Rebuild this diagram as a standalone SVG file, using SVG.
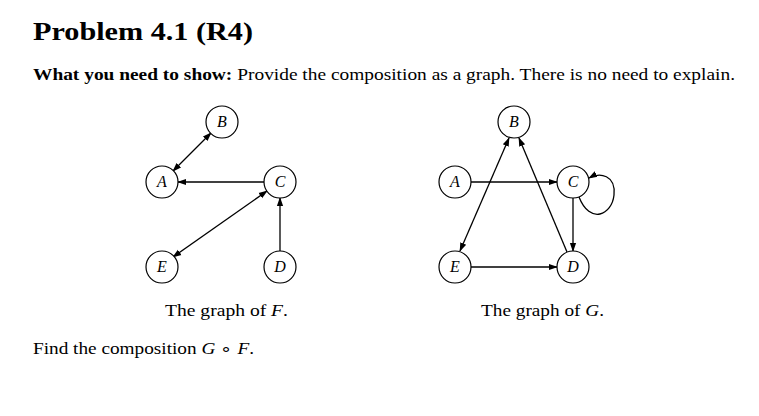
<svg xmlns="http://www.w3.org/2000/svg" width="759" height="416" viewBox="0 0 759 416">
<style>
.n circle{fill:#fff;stroke:#000;stroke-width:1.2}
.n text{font-family:"Liberation Serif",serif;font-style:italic;font-size:16px;text-anchor:middle}
.e path{fill:none;stroke:#000;stroke-width:1.3}
.t{font-family:"Liberation Serif",serif;font-size:17px}
</style>
<defs><marker id="a" viewBox="0 0 10 10" refX="9" refY="5" markerWidth="7" markerHeight="7" orient="auto-start-reverse"><path d="M0,1.5L10,5L0,8.5z"/></marker></defs>
<rect width="759" height="416" fill="#fff"/>
<text x="33" y="40" font-family="Liberation Serif,serif" font-weight="bold" font-size="25" textLength="220" lengthAdjust="spacingAndGlyphs">Problem 4.1 (R4)</text>
<text x="33" y="80" class="t" textLength="702" lengthAdjust="spacingAndGlyphs"><tspan font-weight="bold">What you need to show:</tspan> Provide the composition as a graph. There is no need to explain.</text>
<text x="165" y="316" class="t" textLength="123" lengthAdjust="spacingAndGlyphs">The graph of <tspan font-style="italic">F</tspan>.</text>
<text x="481" y="316" class="t" textLength="123" lengthAdjust="spacingAndGlyphs">The graph of <tspan font-style="italic">G</tspan>.</text>
<text x="33" y="354" class="t" textLength="221" lengthAdjust="spacingAndGlyphs">Find the composition <tspan font-style="italic">G</tspan> ∘ <tspan font-style="italic">F</tspan>.</text>
<g id="edges" class="e">
<path d="M173,171L211,133" marker-start="url(#a)" marker-end="url(#a)"/>
<path d="M264,182L178,182" marker-end="url(#a)"/>
<path d="M173,257L267,191" marker-start="url(#a)" marker-end="url(#a)"/>
<path d="M280,251L280,198" marker-end="url(#a)"/>
<path d="M460,251L509,138" marker-start="url(#a)" marker-end="url(#a)"/>
<path d="M567,252L519,138" marker-end="url(#a)"/>
<path d="M471,182L557,182" marker-end="url(#a)"/>
<path d="M579,197C590,225 612,215 614,195C616,175 600,172 589,178" marker-end="url(#a)"/>
<path d="M573,198L573,251" marker-end="url(#a)"/>
<path d="M471,267L557,267" marker-end="url(#a)"/>
</g>
<g id="F-B" class="n"><circle cx="222" cy="122" r="16"/><text x="222" y="127">B</text></g>
<g id="F-A" class="n"><circle cx="162" cy="182" r="16"/><text x="162" y="187">A</text></g>
<g id="F-C" class="n"><circle cx="280" cy="182" r="16"/><text x="280" y="187">C</text></g>
<g id="F-E" class="n"><circle cx="162" cy="267" r="16"/><text x="162" y="272">E</text></g>
<g id="F-D" class="n"><circle cx="280" cy="267" r="16"/><text x="280" y="272">D</text></g>
<g id="G-B" class="n"><circle cx="514" cy="122" r="16"/><text x="514" y="127">B</text></g>
<g id="G-A" class="n"><circle cx="455" cy="182" r="16"/><text x="455" y="187">A</text></g>
<g id="G-C" class="n"><circle cx="573" cy="182" r="16"/><text x="573" y="187">C</text></g>
<g id="G-E" class="n"><circle cx="455" cy="267" r="16"/><text x="455" y="272">E</text></g>
<g id="G-D" class="n"><circle cx="573" cy="267" r="16"/><text x="573" y="272">D</text></g>
</svg>
